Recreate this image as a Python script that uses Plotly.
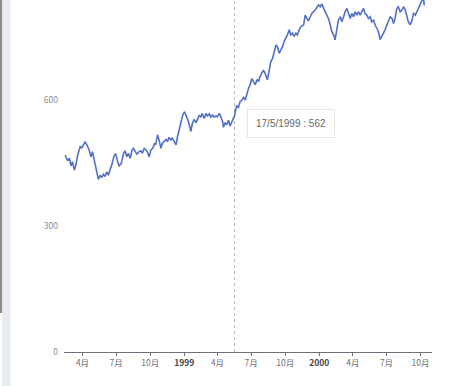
import pandas as pd
import plotly.graph_objects as go

# ---------------- data ----------------
base_date = "1999-01-01"
day_offsets = [
    -322, -316, -310, -306, -302, -297, -293, -288, -281, -277, -272, -268, -263, -257, -252, -248,
    -245, -241, -236, -232, -227, -223, -218, -214, -209, -205, -200, -196, -189, -185, -180, -176,
    -170, -164, -160, -155, -151, -146, -141, -137, -132, -128, -122, -117, -113, -108, -103, -99,
    -95, -90, -85, -80, -77, -72, -68, -63, -59, -54, -49, -45, -41, -36, -32, -27,
    -22, -18, -13, -9, -4, 1, 5, 10, 14, 18, 22, 27, 32, 36, 41, 45,
    49, 54, 59, 63, 68, 72, 77, 81, 86, 90, 95, 99, 104, 106, 111, 115,
    120, 124, 129, 133, 136, 139, 142, 147, 151, 156, 160, 165, 170, 174, 178, 183,
    187, 192, 197, 201, 205, 210, 214, 219, 225, 230, 234, 239, 243, 248, 252, 257,
    261, 266, 270, 275, 279, 284, 288, 293, 297, 302, 306, 311, 316, 323, 327, 336,
    345, 354, 363, 368, 372, 377, 386, 390, 395, 399, 404, 408, 413, 417, 422, 426,
    431, 435, 440, 444, 449, 453, 458, 462, 467, 471, 476, 480, 485, 489, 494, 498,
    503, 507, 512, 516, 521, 525, 530, 534, 539, 543, 548, 552, 557, 562, 566, 570,
    575, 579, 584, 589, 593, 598, 602, 606, 611, 616, 620, 625, 629, 633, 638, 643,
    647, 649,
]
values = [
    469, 457, 460, 443, 453, 433, 445, 469, 489, 486, 494, 500, 493, 481, 465, 477,
    464, 445, 429, 411, 421, 415, 423, 418, 429, 421, 435, 445, 469, 471, 453, 443,
    449, 473, 479, 465, 473, 461, 481, 485, 477, 471, 477, 479, 473, 485, 481, 475,
    465, 481, 485, 497, 493, 517, 505, 485, 497, 501, 506, 501, 511, 505, 509, 501,
    493, 513, 529, 548, 564, 572, 564, 552, 540, 525, 544, 554, 546, 556, 564, 559,
    568, 556, 568, 562, 567, 559, 564, 559, 562, 560, 568, 560, 548, 535, 546, 541,
    552, 538, 548, 552, 562, 576, 586, 583, 596, 600, 606, 600, 620, 628, 636, 651,
    644, 636, 649, 644, 656, 663, 671, 663, 648, 671, 691, 699, 711, 731, 727, 711,
    719, 727, 739, 747, 755, 767, 755, 759, 751, 759, 755, 767, 775, 779, 802, 788,
    806, 814, 826, 822, 829, 818, 802, 794, 779, 763, 755, 743, 770, 790, 798, 786,
    798, 810, 818, 806, 794, 806, 798, 810, 802, 810, 802, 810, 818, 806, 802, 794,
    798, 786, 790, 779, 770, 763, 744, 751, 759, 767, 779, 790, 798, 794, 782, 794,
    818, 822, 810, 814, 822, 814, 798, 786, 779, 790, 806, 802, 810, 818, 826, 834,
    845, 825,
]

x_range = ["1998-02-10", "2000-11-01"]
y_range = [0, 838]
y_ticks = [0, 300, 600]

tick_dates = ["1998-04-01", "1998-07-01", "1998-10-01", "1999-01-01", "1999-04-01", "1999-07-01",
              "1999-10-01", "2000-01-01", "2000-04-01", "2000-07-01", "2000-10-01"]
tick_labels = ["4月", "7月", "10月", "1999", "4月", "7月", "10月", "2000", "4月", "7月", "10月"]

tooltip_date = "1999-05-17"
tooltip_value = 562

# ---------------- figure ----------------
dates = pd.to_datetime(base_date) + pd.to_timedelta(day_offsets, unit="D")

axis_color = "#6E7079"
year_color = "#464646"
ticktext = [
    f"<span style='color:{year_color}'><b>{t}</b></span>" if not t.endswith("月") else t
    for t in tick_labels
]

fig = go.Figure()
fig.add_trace(go.Scatter(
    x=dates, y=values, mode="lines",
    line=dict(color="#5470c6", width=1.6),
    hoverinfo="skip", showlegend=False,
))

# crosshair + tooltip
fig.add_shape(type="line", xref="x", yref="paper",
              x0=tooltip_date, x1=tooltip_date, y0=0, y1=1,
              line=dict(color="#b9b9b9", width=1, dash="dot"), layer="below")
d = pd.to_datetime(tooltip_date)
fig.add_annotation(
    x=tooltip_date, y=545, xref="x", yref="y",
    xanchor="left", yanchor="middle", xshift=12,
    text=f"{d.day}/{d.month}/{d.year} : {tooltip_value}",
    showarrow=False,
    font=dict(family="Liberation Sans, Arial", size=10, color="#666666"),
    bgcolor="white", bordercolor="#e6e6e6", borderwidth=1, borderpad=8,
)

# left-edge page chrome
fig.add_shape(type="rect", xref="paper", yref="paper",
              x0=-0.1682, x1=-0.1451, y0=-0.0966, y1=1,
              fillcolor="#e9ecf2", line=dict(width=0), layer="below")
fig.add_shape(type="rect", xref="paper", yref="paper",
              x0=-0.176, x1=-0.1682, y0=0.1108, y1=1,
              fillcolor="#8c8c8c", line=dict(width=0), layer="below")

fig.update_layout(
    width=474, height=386,
    margin=dict(l=64, r=42, t=0, b=34),
    paper_bgcolor="white", plot_bgcolor="white",
    hovermode=False,
    font=dict(family="Noto Sans CJK SC, Noto Sans, sans-serif", size=8.5, color=axis_color),
    xaxis=dict(
        type="date", range=x_range,
        tickmode="array", tickvals=tick_dates, ticktext=ticktext,
        showgrid=False, zeroline=False,
        showline=True, linecolor=axis_color, linewidth=1,
        ticks="outside", ticklen=3, tickcolor=axis_color, tickwidth=1,
        tickfont=dict(size=8.5, color=axis_color),
    ),
    yaxis=dict(
        range=y_range, tickmode="array", tickvals=y_ticks,
        showgrid=False, zeroline=False, showline=False, ticks="",
        tickfont=dict(size=8.5, color="#8a8d94"),
        ticklabelstandoff=5,
    ),
)

fig.write_html(
    "out.html",
    config={"displayModeBar": False, "staticPlot": True},
    post_script="document.body.style.margin='0';document.body.style.overflow='hidden';",
)
